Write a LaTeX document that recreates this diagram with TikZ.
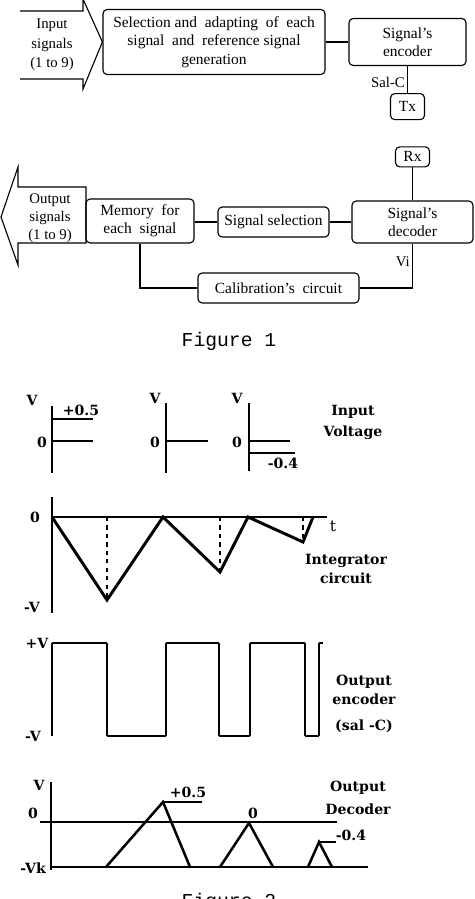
\documentclass[tikz,border=0pt]{standalone}
\usepackage{fontspec}
\setmainfont{Liberation Serif}
\setmonofont{Liberation Mono}
\newfontfamily\plotfont{DejaVu Serif}
\usetikzlibrary{positioning}
\tikzset{%
    block/.style={%
        rectangle,
        draw=black,
        rounded corners=3pt,
        align=center,
        inner sep=2pt,
        font=\fontsize{11}{13}\selectfont,
    },
    arrowtext/.style={%
        align=center,
        inner sep=0pt,
        font=\fontsize{10.5}{14}\selectfont,
    },
    bigarrow/.style={%
        draw=black,
        line width=0.8pt,
        line join=miter,
    },
    lbl/.style={%
        inner sep=1.5pt,
        font=\fontsize{10.5}{13}\selectfont,
    },
    caption/.style={%
        inner sep=0pt,
        font=\ttfamily\fontsize{14}{16}\selectfont,
    },
    plotlbl/.style={%
        inner sep=0pt,
        align=center,
        font=\plotfont\bfseries\fontsize{10}{13}\selectfont,
    },
    vaxis/.style={line width=1.4pt},
    wave/.style={line width=2.1pt, line join=miter},
    guide/.style={line width=0.8pt, dashed},
}

\begin{document}
\begin{tikzpicture}[x=0.025cm, y=-0.025cm, line width=0.8pt]
	\useasboundingbox (0,0) rectangle (474,899);
	\clip (0,0) rectangle (474,899);

	% Figure 1, sending side
	\node [block, minimum width=5.55cm, minimum height=1.625cm] at (214,42) (sel) {Selection and \ adapting \ of \ each\\signal \ and \ reference signal\\generation};
	\node [block, minimum width=2.925cm, minimum height=1.175cm] at (407.5,42) (enc) {Signal's\\encoder};
	\node [block, minimum width=0.85cm, minimum height=0.65cm, below=0.675cm of enc] (tx) {Tx};
	\node [arrowtext] at (52,45) (insig) {Input\\signals\\(1 to 9)};

	\draw[bigarrow] (20,11) -- (83,11) -- (83,-1) -- (sel.west) -- (83,89) -- (83,79) -- (20,79);
	\draw (sel.east) -- (enc.west);
	\draw (enc) -- node[lbl, left, pos=0.6] {Sal-C} (tx);

	% Figure 1, receiving side
	\node [block, minimum width=3.025cm, minimum height=1.05cm] at (412.5,222) (dec) {Signal's\\decoder};
	\node [block, minimum width=0.85cm, minimum height=0.5cm, above=0.825cm of dec] (rx) {Rx};
	\node [block, minimum width=2.775cm, minimum height=0.75cm] at (273.5,222) (ssel) {Signal selection};
	\node [block, minimum width=2.7cm, minimum height=1.1cm] at (140,221) (mem) {Memory \ for\\each \ signal};
	\node [block, minimum width=4.025cm, minimum height=0.75cm] at (278.5,288) (cal) {Calibration's \ circuit};
	\node [arrowtext, font=\fontsize{10.5}{13}\selectfont] at (50,218) (outsig) {Output\\signals\\(1 to 9)};

	\draw[bigarrow] (86,187) -- (18,187) -- (18,167) -- (1,217) -- (18,265) -- (18,243) -- (86,243) -- cycle;
	\draw (rx) -- (dec);
	\draw (dec.west) -- (ssel.east);
	\draw (ssel.west) -- (mem.east |- ssel.west);
	\draw (dec.south) |- node[lbl, left, pos=0.2] {Vi} (cal.east);
	\draw (mem.south) |- (cal.west);

	\node [caption] at (229,341) (fig_one) {Figure 1};

	% Figure 2, input voltage
	\draw[vaxis] (52,406) -- (52,473);
	\draw[vaxis] (166,403) -- (166,473);
	\draw[vaxis] (249,403) -- (249,471);
	\draw[line width=1.1pt] (52,419) -- (93,419);
	\draw[wave] (52,441) -- (93,441);
	\draw[wave] (166,441) -- (208,441);
	\draw[wave] (249,441) -- (290,441);
	\draw[line width=1.4pt] (249,453) -- (295,453);
	\node [plotlbl] at (32,400) (v_one) {V};
	\node [plotlbl] at (155,398) (v_two) {V};
	\node [plotlbl] at (237,398) (v_three) {V};
	\node [plotlbl] at (42,442) (zero_one) {0};
	\node [plotlbl] at (155,442) (zero_two) {0};
	\node [plotlbl] at (237,442) (zero_three) {0};
	\node [plotlbl] at (81,410) (in_pos) {+0.5};
	\node [plotlbl] at (283,463) (in_neg) {-0.4};
	\node [plotlbl, font=\plotfont\bfseries\fontsize{10}{15}\selectfont] at (353,422) (in_title) {Input\\Voltage};

	% integrator
	\draw[vaxis] (52,497) -- (52,613);
	\draw[line width=1.4pt] (52,517) -- (327,517);
	\draw[wave] (52,517) -- (107,600) -- (163,517) -- (220,572) -- (248,517) -- (303,542) -- (313,517);
	\draw[guide] (107,517) -- (107,600);
	\draw[guide] (220,517) -- (220,572);
	\draw[guide] (303,517) -- (303,542);
	\node [plotlbl] at (35,517) (int_zero) {0};
	\node [plotlbl, font=\plotfont\fontsize{11}{13}\selectfont] at (333,526) (int_t) {t};
	\node [plotlbl] at (32,607) (int_low) {-V};
	\node [plotlbl] at (346,569) (int_title) {Integrator\\circuit};

	% encoder output
	\draw[line width=1.1pt] (52,736) -- (52,643) (107,643) -- (107,736) (166,736) -- (166,643)
		(219,643) -- (219,736) (250,736) -- (250,643) (305,643) -- (305,736) (319,736) -- (319,643);
	\draw[wave] (52,643) -- (107,643) (107,736) -- (166,736) (166,643) -- (219,643)
		(219,736) -- (250,736) (250,643) -- (305,643) (305,736) -- (319,736);
	\draw[line width=1.1pt] (319,643) -- (323,643);
	\node [plotlbl] at (37,643) (enc_high) {+V};
	\node [plotlbl] at (33,736) (enc_low) {-V};
	\node [plotlbl] at (364,704) (enc_title) {Output\\encoder\\[0.2cm](sal -C)};

	% decoder output
	\draw[vaxis] (51,782) -- (51,870);
	\draw[line width=1.4pt] (40,822) -- (337,822);
	\draw[line width=1.4pt] (51,867) -- (368,867);
	\draw[wave, line width=1.8pt] (106,867) -- (163,802) -- (190,867);
	\draw[wave, line width=1.8pt] (220,867) -- (249,823) -- (273,867);
	\draw[wave, line width=1.8pt] (308,867) -- (319,842) -- (332,867);
	\draw[line width=1.1pt] (163,802) -- (202,802);
	\draw[line width=1.1pt] (319,842) -- (336,842);
	\node [plotlbl] at (39,785) (dec_v) {V};
	\node [plotlbl] at (33,813) (dec_zero) {0};
	\node [plotlbl] at (33,868) (dec_low) {-Vk};
	\node [plotlbl] at (188,792) (dec_pos) {+0.5};
	\node [plotlbl] at (253,813) (dec_mid) {0};
	\node [plotlbl] at (351,835) (dec_neg) {-0.4};
	\node [plotlbl, font=\plotfont\bfseries\fontsize{10}{16}\selectfont] at (358,798) (dec_title) {Output\\Decoder};

	\node [caption] at (229,902) (fig_two) {Figure 2};
\end{tikzpicture}
\end{document}
